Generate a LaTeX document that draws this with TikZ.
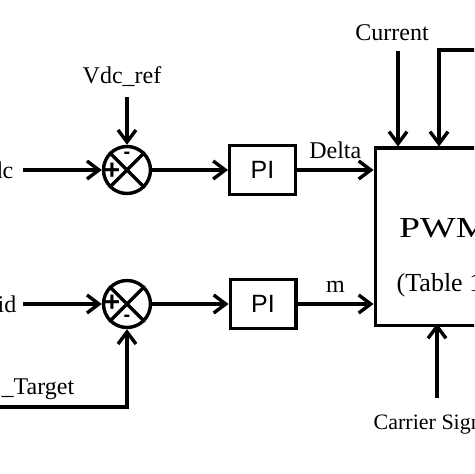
\documentclass[tikz,border=0pt]{standalone}
\usepackage{fontspec}
\setmainfont{Liberation Serif}
\setsansfont{Liberation Sans}
\usetikzlibrary{arrows.meta}
\tikzset{
	lbl/.style = {inner sep=2pt, font=\fontsize{12}{14}\selectfont},
	sumnode/.style = {circle, draw=black, line width=1.7pt, inner sep=0pt,
		minimum size=23.5pt},% comparateur
	sgn/.style = {inner sep=0pt, font=\sffamily\bfseries\fontsize{14}{14}\selectfont},
	sgnm/.style = {inner sep=0pt, font=\sffamily\bfseries\fontsize{10}{10}\selectfont},
	pibox/.style = {rectangle, draw=black, line width=1.7pt, inner sep=0pt,
		minimum width=32.8pt, minimum height=24.3pt,
		font=\sffamily\fontsize{12.5}{14}\selectfont},% correcteur PI
	pwmbox/.style = {rectangle, draw=black, line width=1.7pt, inner sep=0pt,
		minimum width=80pt, minimum height=88.5pt}% bloc MLI
}

\begin{document}
\begin{tikzpicture}[x=0.5pt, y=-0.5pt, line width=1.7pt,
		>={Straight Barb[length=6pt,width=9pt]}]
	\clip (0,0) rectangle (474,474);
	% ligne du haut
	\node [lbl, anchor=east] (vdc) at (19,170) {dc};
	\node [lbl, anchor=base] (vdcref) at (122,84) {Vdc\_ref};
	\node [sumnode] (sum1) at (127,170) {};
	\draw (sum1.north west) -- (sum1.south east) (sum1.north east) -- (sum1.south west);
	\node [sgn] at (112,171) {+};
	\node [sgnm] at (127,155) {-};
	\node [pibox] (pi1) at (262.5,170) {PI};
	\node [pwmbox, anchor=north west] (pwm) at (373.5,146.5) {};
	\node [anchor=base west, inner sep=0pt, xscale=1.3, font=\fontsize{14.5}{16}\selectfont] (pwmtxt) at (397,238) {PWM};
	\node [anchor=base west, inner sep=0pt, font=\fontsize{13}{15}\selectfont] (tabtxt) at (395,292) {(Table 1)};
	\draw [->] ([xshift=2pt]vdc.east) -- (sum1.west);
	\draw [->] ([yshift=-2pt]vdcref.south -| sum1.north) -- (sum1.north);
	\draw [->] (sum1.east) -- (pi1.west);
	\draw [->] (pi1.east) -- (pi1.east -| pwm.west) node [lbl, midway, above=3pt] {Delta};
	% entrees du haut
	\node [lbl, anchor=base] (cur) at (392,41) {Current};
	\coordinate (pcur) at (398,146.5);
	\coordinate (pfb) at (439,146.5);
	\coordinate (fbtop) at (500,50);
	\draw [->] ([yshift=-2pt]cur.south -| pcur) -- (pcur);
	\draw [->] (fbtop) -| (pfb);
	% ligne du bas
	\node [lbl, anchor=east] (iid) at (22,304) {id};
	\node [sumnode] (sum2) at (127,304) {};
	\draw (sum2.north west) -- (sum2.south east) (sum2.north east) -- (sum2.south west);
	\node [sgn] at (112,303) {+};
	\node [sgnm] at (127,318) {-};
	\node [pibox] (pi2) at (263,304) {PI};
	\draw [->] ([xshift=0.5pt]iid.east) -- (sum2.west);
	\draw [->] (sum2.east) -- (pi2.west);
	\draw [->] (pi2.east) -- (pi2.east -| pwm.west) node [lbl, midway, above=3pt] {m};
	\node [lbl, anchor=base west] (tgt) at (-4,394) {\_Target};
	\coordinate (tgtin) at (-10,407);
	\draw [->] (tgtin) -| (sum2.south);
	% porteuse
	\node [anchor=base west, inner sep=2pt, font=\fontsize{11}{12}\selectfont] (car) at (368,429) {Carrier Signal};
	\coordinate (pcar) at (437,323.5);
	\draw [->] ([yshift=5pt]car.north -| pcar) -- (pcar);
\end{tikzpicture}
\end{document}
